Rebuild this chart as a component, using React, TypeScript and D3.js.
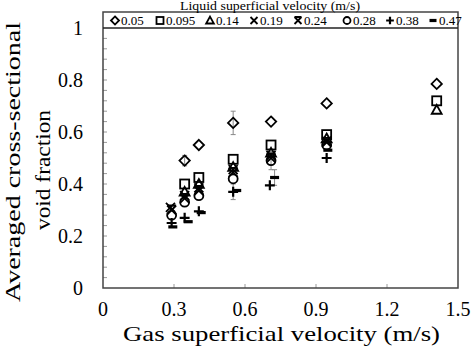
import React from "react";
import * as d3 from "d3";

const series = ["0.05", "0.095", "0.14", "0.19", "0.24", "0.28", "0.38", "0.47"];
const shapes = ["diamond", "square", "triangle", "x", "star", "circle", "plus", "dash"];
const xs05 = [0.345, 0.405, 0.55, 0.71, 0.945, 1.41];
const ys05 = [0.49, 0.55, 0.635, 0.64, 0.71, 0.785];
const xs095 = [0.345, 0.405, 0.55, 0.71, 0.945, 1.41];
const ys095 = [0.40, 0.425, 0.495, 0.55, 0.59, 0.72];
const xs14 = [0.345, 0.405, 0.55, 0.71, 0.945, 1.41];
const ys14 = [0.37, 0.40, 0.465, 0.52, 0.575, 0.685];
const xs19 = [0.285, 0.345, 0.405, 0.55, 0.71, 0.945];
const ys19 = [0.31, 0.355, 0.385, 0.455, 0.51, 0.565];
const xs24 = [0.29, 0.345, 0.405, 0.55, 0.71, 0.945];
const ys24 = [0.30, 0.345, 0.375, 0.445, 0.50, 0.56];
const xs28 = [0.29, 0.345, 0.405, 0.55, 0.71, 0.945];
const ys28 = [0.28, 0.33, 0.355, 0.42, 0.49, 0.55];
const xs38 = [0.29, 0.345, 0.405, 0.55, 0.705, 0.945];
const ys38 = [0.25, 0.27, 0.295, 0.37, 0.395, 0.50];
const xs47 = [0.295, 0.36, 0.415, 0.565, 0.725, 0.95];
const ys47 = [0.235, 0.255, 0.29, 0.375, 0.425, 0.53];
const seriesX = [xs05, xs095, xs14, xs19, xs24, xs28, xs38, xs47];
const seriesY = [ys05, ys095, ys14, ys19, ys24, ys28, ys38, ys47];
// error bars: series index, point index, half-width
const errSeries = [0, 0, 5, 6, 7];
const errPoint = [0, 2, 4, 3, 4];
const errHalf = [0.02, 0.045, 0.035, 0.03, 0.03];

const xTicks = [0, 0.3, 0.6, 0.9, 1.2, 1.5];
const yTicks = [0, 0.2, 0.4, 0.6, 0.8, 1];
const yMinor = d3.range(1, 25).map((i) => i * 0.04);

const FONT = "Liberation Serif, Liberation Sans, sans-serif";

function Marker({ type, x, y, s }: { type: string; x: number; y: number; s: number }) {
  const st = { stroke: "#000", strokeWidth: 1.8, fill: "none" } as any;
  const h = s / 2;
  switch (type) {
    case "diamond":
      return <path d={`M${x},${y - h * 1.15}L${x + h * 1.15},${y}L${x},${y + h * 1.15}L${x - h * 1.15},${y}Z`} {...st} />;
    case "square":
      return <rect x={x - h} y={y - h} width={s} height={s} {...st} />;
    case "triangle":
      return <path d={`M${x},${y - h * 1.1}L${x + h * 1.1},${y + h * 0.85}L${x - h * 1.1},${y + h * 0.85}Z`} {...st} />;
    case "x":
      return <path d={`M${x - h},${y - h}L${x + h},${y + h}M${x - h},${y + h}L${x + h},${y - h}`} {...st} />;
    case "star":
      return <path d={`M${x - h},${y - h}L${x + h},${y + h}M${x - h},${y + h}L${x + h},${y - h}M${x - h},${y - h}L${x + h},${y - h}`} {...st} />;
    case "circle":
      return <circle cx={x} cy={y} r={h} {...st} />;
    case "plus":
      return <path d={`M${x - h * 1.1},${y}L${x + h * 1.1},${y}M${x},${y - h * 1.1}L${x},${y + h * 1.1}`} {...st} strokeWidth={2.2} />;
    case "dash":
      return <rect x={x - h} y={y - 1.6} width={s} height={3.2} fill="#000" />;
  }
  return null;
}

export default function App() {
  const W = 474, H = 353;
  const L = 103, R = 458, B = 288, T1 = 28, TOP = 12;
  const x = d3.scaleLinear().domain([0, 1.5]).range([L, R]);
  const y = d3.scaleLinear().domain([0, 1]).range([B, T1]);

  const legendX = [111, 156, 206, 250, 294, 343, 386, 429];

  return (
    <svg width={W} height={H} style={{ position: "absolute", left: 0, top: 0, background: "#fff", fontFamily: FONT }}>
      <rect width={W} height={H} fill="#fff" />
      {yMinor.map((t, i) => (
        <line key={"ym" + i} x1={L} x2={L + 4} y1={y(t)} y2={y(t)} stroke="#9a9a9a" strokeWidth={1} />
      ))}
      {xTicks.slice(1, -1).map((t, i) => (
        <line key={"xt" + i} x1={x(t)} x2={x(t)} y1={B} y2={B - 4} stroke="#9a9a9a" strokeWidth={1} />
      ))}
      <rect x={L} y={TOP} width={R - L} height={B - TOP} fill="none" stroke="#444" strokeWidth={1.5} />
      <line x1={L} x2={R} y1={T1} y2={T1} stroke="#222" strokeWidth={1.5} />

      {errSeries.map((si, k) => {
        const px = x(seriesX[si][errPoint[k]]);
        const py = seriesY[si][errPoint[k]];
        const e = errHalf[k];
        return (
          <g key={"e" + k} stroke="#888" strokeWidth={1}>
            <line x1={px} x2={px} y1={y(py - e)} y2={y(py + e)} />
            <line x1={px - 2.5} x2={px + 2.5} y1={y(py - e)} y2={y(py - e)} />
            <line x1={px - 2.5} x2={px + 2.5} y1={y(py + e)} y2={y(py + e)} />
          </g>
        );
      })}

      {series.map((s, si) =>
        seriesX[si].map((vx, pi) => (
          <Marker key={s + "-" + pi} type={shapes[si]} x={x(vx)} y={y(seriesY[si][pi])} s={9} />
        ))
      )}

      <text x={270} y={9.5} textAnchor="middle" fontSize={12} textLength={180} lengthAdjust="spacingAndGlyphs">
        Liquid superficial velocity (m/s)
      </text>
      {series.map((s, i) => (
        <g key={"lg" + i}>
          <Marker type={shapes[i]} x={legendX[i] + 4} y={20.5} s={7} />
          <text x={legendX[i] + 10} y={25} fontSize={13}>
            {s}
          </text>
        </g>
      ))}

      {yTicks.map((t, i) => (
        <text key={"yl" + i} x={83} y={y(t) + 7} textAnchor="end" fontSize={20}>
          {t === 0 || t === 1 ? String(t) : t.toFixed(1)}
        </text>
      ))}
      {xTicks.map((t, i) => (
        <text key={"xl" + i} x={x(t)} y={316} textAnchor="middle" fontSize={20}>
          {t === 0 ? "0" : t.toFixed(1)}
        </text>
      ))}
      <text x={281.5} y={341} textAnchor="middle" fontSize={22} textLength={317} lengthAdjust="spacingAndGlyphs">
        Gas superficial velocity (m/s)
      </text>
      <g transform="translate(20,162) rotate(-90)">
        <text x={0} y={0} textAnchor="middle" fontSize={22} textLength={280} lengthAdjust="spacingAndGlyphs">
          Averaged cross-sectional
        </text>
        <text x={-8} y={30} textAnchor="middle" fontSize={22} textLength={120} lengthAdjust="spacingAndGlyphs">
          void fraction
        </text>
      </g>
    </svg>
  );
}
